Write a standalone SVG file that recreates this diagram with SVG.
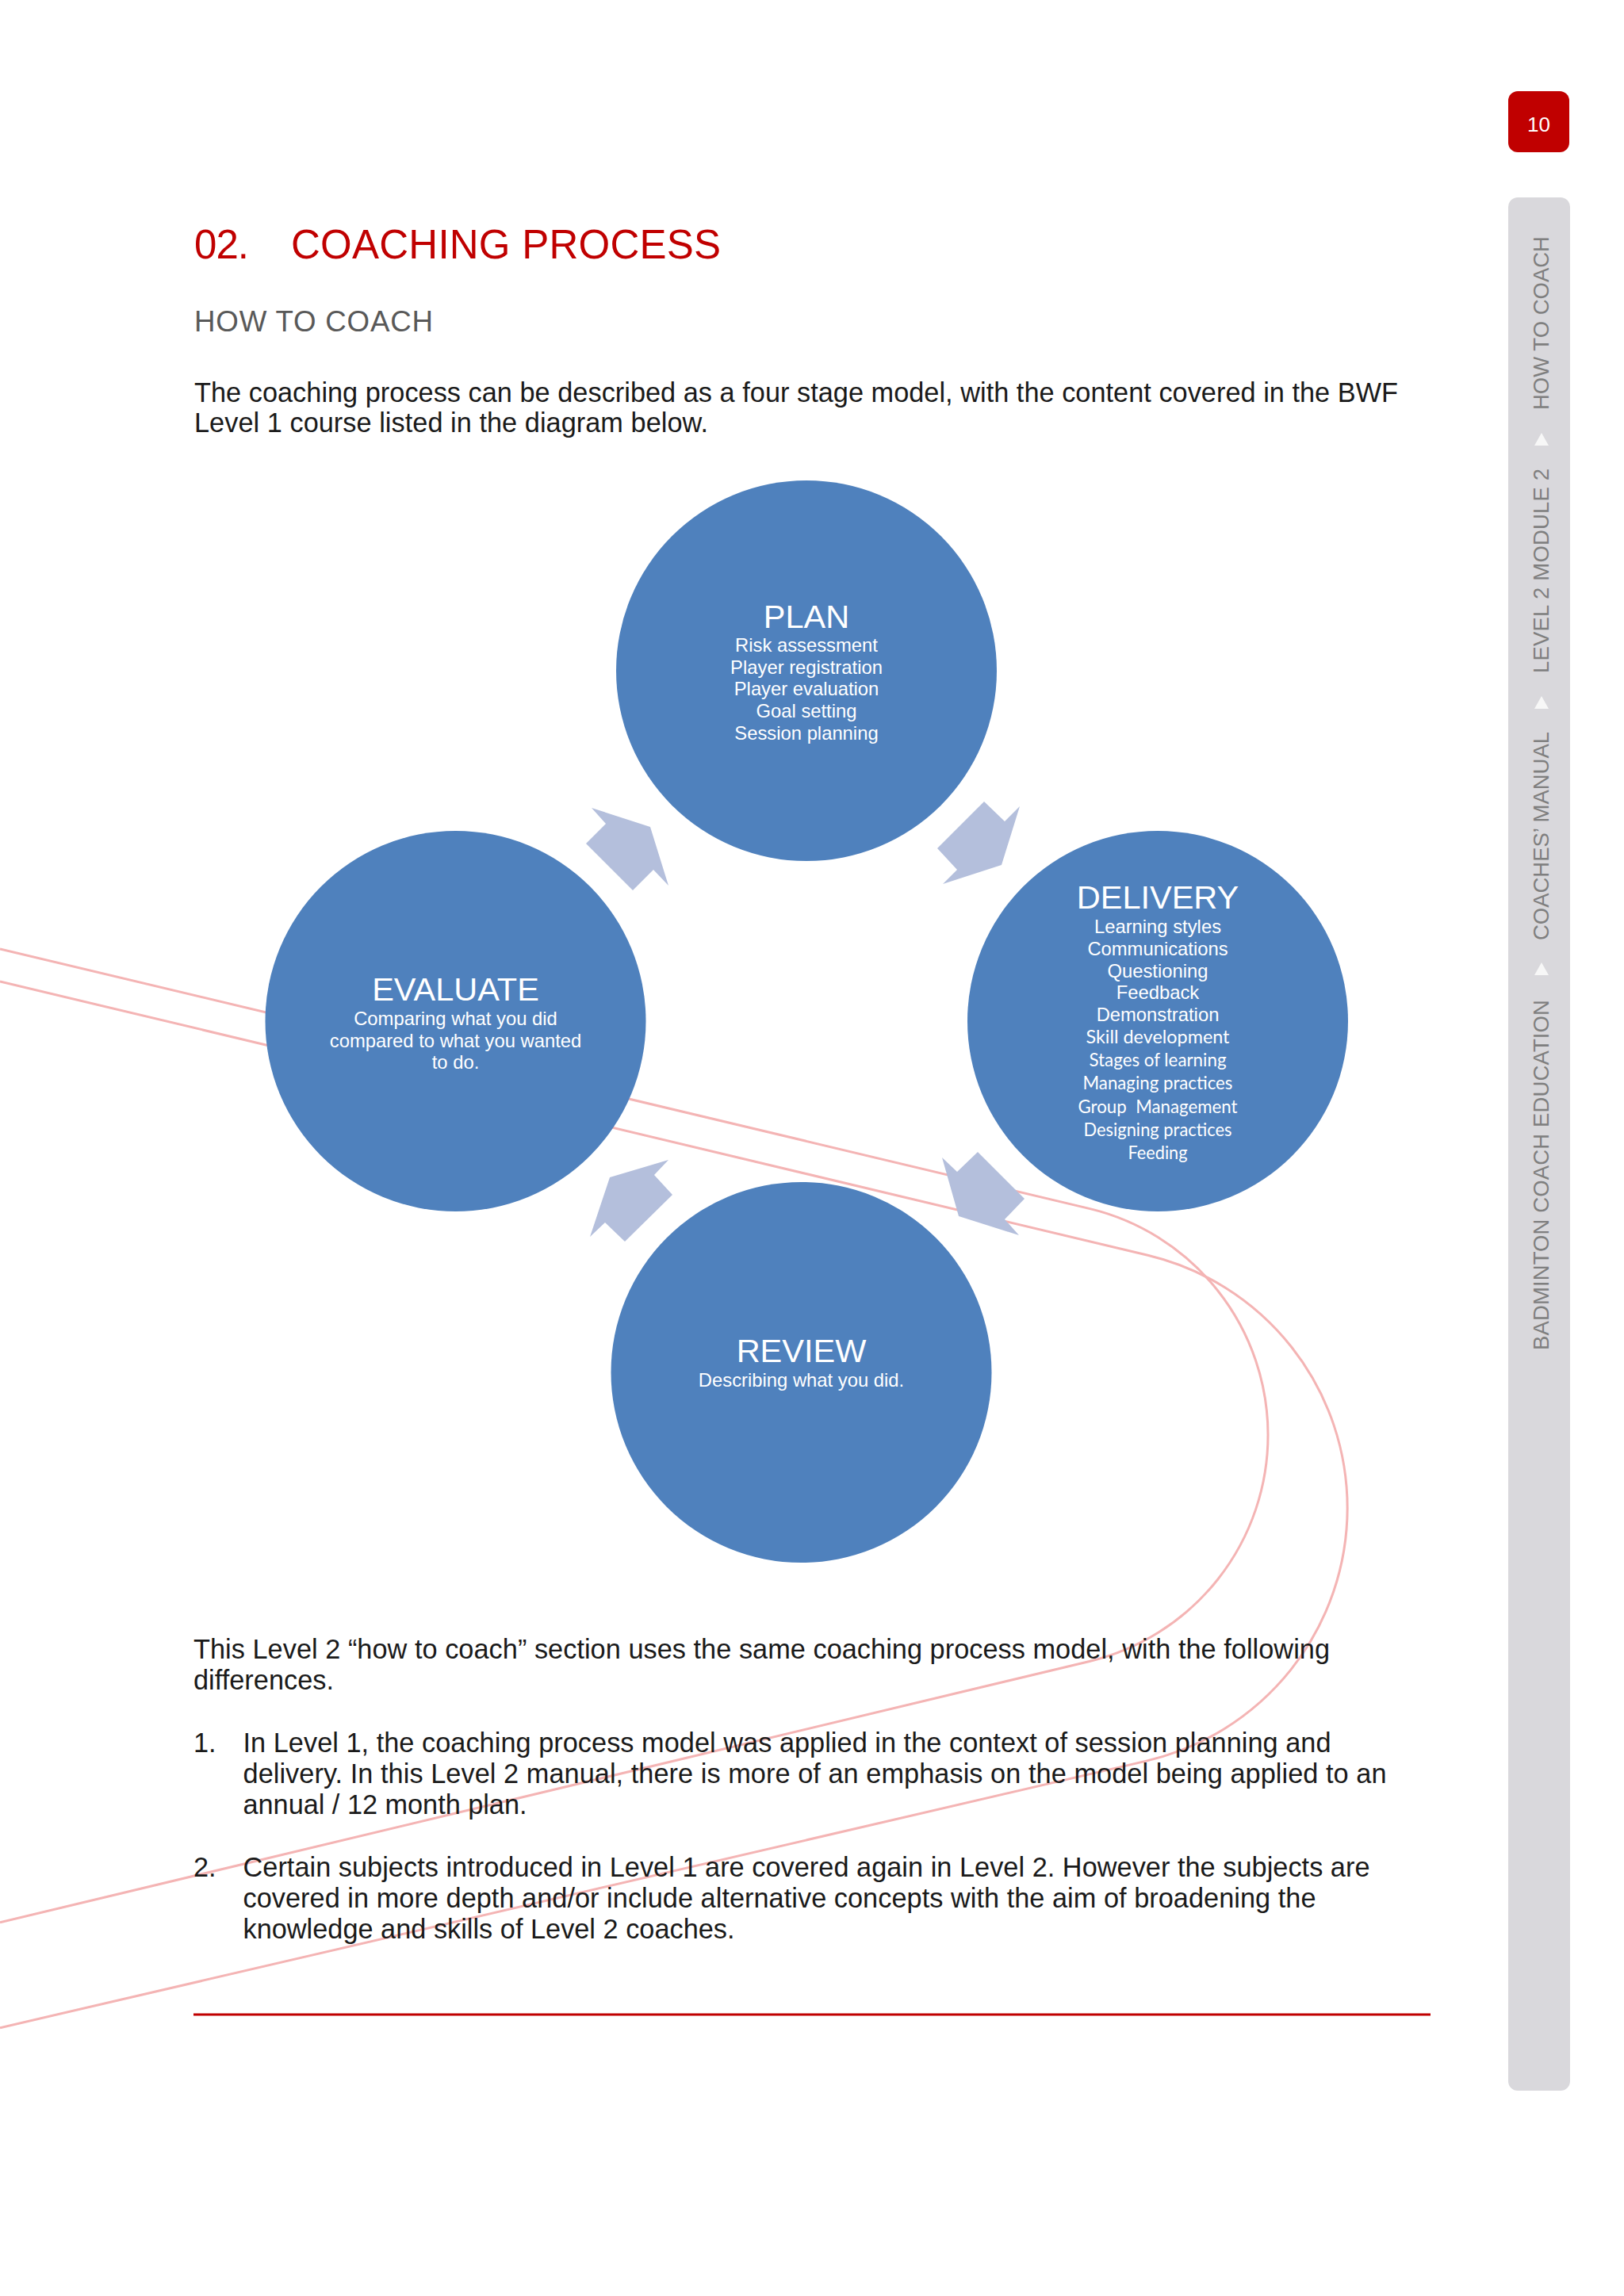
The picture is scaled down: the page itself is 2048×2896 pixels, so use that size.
<svg xmlns="http://www.w3.org/2000/svg" width="2048" height="2896" viewBox="0 0 2048 2896">
<defs>
<style>
.bg{fill:#ffffff}
.deco{fill:none;stroke:#f4b4b4;stroke-width:3}
.circ{fill:#4f81bd}
.arw{fill:#b4bfdc}
.ttl{font-family:"Liberation Sans",Arial,sans-serif;font-size:41.5px;fill:#ffffff;text-anchor:middle}
.itm{font-family:"Liberation Sans",Arial,sans-serif;font-size:23.8px;fill:#ffffff;text-anchor:middle}
.itc{font-family:Lato,"Open Sans",sans-serif;font-size:23px;fill:#ffffff;text-anchor:middle}
.body{font-family:"Liberation Sans",Arial,sans-serif;font-size:34.3px;fill:#1a1a1a}
.side{font-family:"Liberation Sans",Arial,sans-serif;font-size:27.5px;fill:#7f7f7f}
</style>
</defs>
<rect class="bg" x="0" y="0" width="2048" height="2896"/>

<g id="decoration">
<path class="deco" d="M 0 1197 L 1373.5 1524.4 A 293.6 293.6 0 0 1 1373.9 2095.5 L 0 2424.7"/>
<path class="deco" d="M 0 1238 L 1447.4 1583.3 A 327.6 327.6 0 0 1 1445.7 2221.1 L 0 2557.7"/>
</g>

<g id="header">
<text x="245" y="326" font-family="Liberation Sans, Arial, sans-serif" font-size="51" fill="#c00000" textLength="69" lengthAdjust="spacing">02.</text>
<text x="367" y="326" font-family="Liberation Sans, Arial, sans-serif" font-size="51" fill="#c00000" textLength="542" lengthAdjust="spacing">COACHING PROCESS</text>
<text x="245" y="418" font-family="Liberation Sans, Arial, sans-serif" font-size="36.7" fill="#595959" textLength="301" lengthAdjust="spacing">HOW TO COACH</text>
<text class="body" x="245" y="507" textLength="1518" lengthAdjust="spacing">The coaching process can be described as a four stage model, with the content covered in the BWF</text>
<text class="body" x="245" y="545" textLength="648" lengthAdjust="spacing">Level 1 course listed in the diagram below.</text>
</g>

<g id="sidebar">
<rect x="1902" y="115" width="77" height="77" rx="12" fill="#c00000"/>
<text x="1940.5" y="166" font-family="Liberation Sans, Arial, sans-serif" font-size="26" fill="#ffffff" text-anchor="middle">10</text>
<rect x="1902" y="249" width="78" height="2388" rx="12" fill="#d9d8dc"/>
<text class="side" transform="translate(1953 1703) rotate(-90)" x="0" y="0" textLength="442" lengthAdjust="spacing">BADMINTON COACH EDUCATION</text>
<text class="side" transform="translate(1953 1186) rotate(-90)" x="0" y="0" textLength="263" lengthAdjust="spacing">COACHES’ MANUAL</text>
<text class="side" transform="translate(1953 849) rotate(-90)" x="0" y="0" textLength="258" lengthAdjust="spacing">LEVEL 2 MODULE 2</text>
<text class="side" transform="translate(1953 517) rotate(-90)" x="0" y="0" textLength="219" lengthAdjust="spacing">HOW TO COACH</text>
<polygon points="1944,1214 1935,1230 1953,1230" fill="#f7f7f7"/>
<polygon points="1944,878 1935,894 1953,894" fill="#f7f7f7"/>
<polygon points="1944,546 1935,562 1953,562" fill="#f7f7f7"/>
</g>

<g id="connectors">
<polygon class="arw" points="746,1019 764,1039 739,1064 798,1123 824,1097 843,1117 820,1043"/>
<polygon class="arw" points="1241,1011 1267,1036 1286,1017 1263,1091 1189,1115 1207,1097 1182,1070"/>
<polygon class="arw" points="1188,1460 1207,1478 1233,1453 1292,1512 1267,1538 1285,1558 1209,1534"/>
<polygon class="arw" points="843,1463 825,1482 848,1507 788,1566 763,1542 744,1560 769,1485"/>
</g>

<g id="node-plan">
<circle class="circ" cx="1017" cy="846" r="240"/>
<text class="ttl" x="1017" y="792">PLAN</text>
<text class="itm" x="1017" y="822">Risk assessment</text>
<text class="itm" x="1017" y="850">Player registration</text>
<text class="itm" x="1017" y="877">Player evaluation</text>
<text class="itm" x="1017" y="905">Goal setting</text>
<text class="itm" x="1017" y="933">Session planning</text>
</g>

<g id="node-delivery">
<circle class="circ" cx="1460" cy="1288" r="240"/>
<text class="ttl" x="1460" y="1146">DELIVERY</text>
<text class="itm" x="1460" y="1177">Learning styles</text>
<text class="itm" x="1460" y="1205">Communications</text>
<text class="itm" x="1460" y="1233">Questioning</text>
<text class="itm" x="1460" y="1260">Feedback</text>
<text class="itm" x="1460" y="1288">Demonstration</text>
<text class="itc" x="1460" y="1316" textLength="181" lengthAdjust="spacingAndGlyphs">Skill development</text>
<text class="itc" x="1460" y="1345" textLength="173" lengthAdjust="spacingAndGlyphs">Stages of learning</text>
<text class="itc" x="1460" y="1374" textLength="189" lengthAdjust="spacingAndGlyphs">Managing practices</text>
<text class="itc" x="1460" y="1404" textLength="201" lengthAdjust="spacingAndGlyphs" xml:space="preserve">Group  Management</text>
<text class="itc" x="1460" y="1433" textLength="187" lengthAdjust="spacingAndGlyphs">Designing practices</text>
<text class="itc" x="1460" y="1462" textLength="75" lengthAdjust="spacingAndGlyphs">Feeding</text>
</g>

<g id="node-evaluate">
<circle class="circ" cx="574.5" cy="1288" r="240"/>
<text class="ttl" x="574.5" y="1262">EVALUATE</text>
<text class="itm" x="574.5" y="1293">Comparing what you did</text>
<text class="itm" x="574.5" y="1321">compared to what you wanted</text>
<text class="itm" x="574.5" y="1348">to do.</text>
</g>

<g id="node-review">
<circle class="circ" cx="1010.5" cy="1731" r="240"/>
<text class="ttl" x="1010.5" y="1718">REVIEW</text>
<text class="itm" x="1010.5" y="1749">Describing what you did.</text>
</g>

<g id="footer-text">
<text class="body" x="244" y="2092" textLength="1433" lengthAdjust="spacing">This Level 2 “how to coach” section uses the same coaching process model, with the following</text>
<text class="body" x="244" y="2131" textLength="177" lengthAdjust="spacing">differences.</text>
<text class="body" x="244" y="2210">1.</text>
<text class="body" x="306.5" y="2210" textLength="1372" lengthAdjust="spacing">In Level 1, the coaching process model was applied in the context of session planning and</text>
<text class="body" x="306.5" y="2249" textLength="1442" lengthAdjust="spacing">delivery. In this Level 2 manual, there is more of an emphasis on the model being applied to an</text>
<text class="body" x="306.5" y="2288" textLength="358" lengthAdjust="spacing">annual / 12 month plan.</text>
<text class="body" x="244" y="2367">2.</text>
<text class="body" x="306.5" y="2367" textLength="1421" lengthAdjust="spacing">Certain subjects introduced in Level 1 are covered again in Level 2. However the subjects are</text>
<text class="body" x="306.5" y="2406" textLength="1353" lengthAdjust="spacing">covered in more depth and/or include alternative concepts with the aim of broadening the</text>
<text class="body" x="306.5" y="2445" textLength="620" lengthAdjust="spacing">knowledge and skills of Level 2 coaches.</text>
<line x1="244" y1="2541" x2="1804" y2="2541" stroke="#c00000" stroke-width="3"/>
</g>
</svg>
